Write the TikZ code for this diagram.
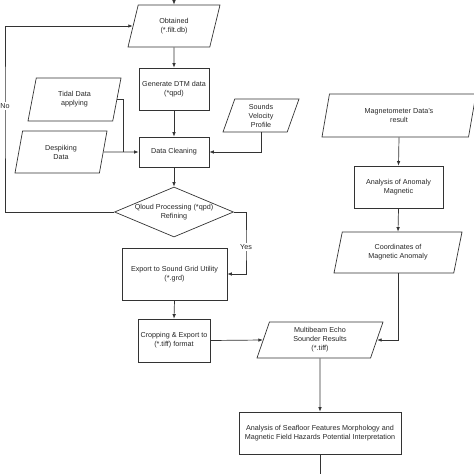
\documentclass[tikz,border=0pt]{standalone}
\usepackage{fontspec}
\setmainfont{Liberation Sans}
\usetikzlibrary{shapes.geometric,arrows.meta}

\begin{document}
\begin{tikzpicture}[x=1pt, y=-1pt, >={Latex[length=4.5pt,width=3.5pt]},
  every node/.style={font=\fontsize{7.2}{9}\selectfont, text=black!85, align=center},
  every path/.style={draw=black!80, line width=0.7pt},
  proc/.style={draw, rectangle, inner sep=1pt},
  data/.style={draw, trapezium, trapezium left angle=65, trapezium right angle=115, trapezium stretches body, inner sep=1pt},
  choice/.style={draw, diamond, inner sep=0pt, shape aspect=2.4},
  lbl/.style={fill=white, inner sep=1pt}]
\useasboundingbox[draw=none] (0,0) rectangle (474,474);

\node[data, trapezium left angle=60, trapezium right angle=120, minimum width=92pt, minimum height=42pt] at (174,26)(obtained) {Obtained\\(*.filt.db)};
\node[proc, minimum width=70pt, minimum height=42pt] at (174,89)(dtm) {Generate DTM data\\(*qpd)};
\node[data, minimum width=93pt, minimum height=43pt] at (74.5,99.5)(tidal) {Tidal Data\\applying};
\node[data, minimum width=92pt, minimum height=42pt] at (61,152)(despike) {Despiking\\Data};
\node[data, minimum width=76pt, minimum height=33pt] at (261,115.5)(sounds) {Sounds\\Velocity\\Profile};
\node[proc, minimum width=70pt, minimum height=30pt] at (174,152)(clean) {Data Cleaning};
\node[choice, minimum width=119pt, minimum height=50pt] at (174,212)(qloud) {Qloud Processing (*qpd)\\Refining};
\node[proc, minimum width=105pt, minimum height=52pt] at (174.5,274)(export) {Export to Sound Grid Utility\\(*.grd)};
\node[proc, minimum width=72pt, minimum height=43pt] at (174,340.5)(crop) {Cropping \& Export to\\(*.tiff) format};

\node[data, minimum width=154pt, minimum height=43pt] at (399,115.5)(magnet) {Magnetometer Data's\\result};
\node[proc, minimum width=89pt, minimum height=42pt] at (398.5,187)(anom) {Analysis of Anomaly\\Magnetic};
\node[data, minimum width=128pt, minimum height=41pt] at (398,252.5)(coord) {Coordinates of\\Magnetic Anomaly};
\node[data, minimum width=126pt, minimum height=36pt] at (320,340)(mb) {Multibeam Echo\\Sounder Results\\(*.tiff)};
\node[proc, minimum width=162pt, minimum height=42pt] at (320,433)(final) {Analysis of Seafloor Features Morphology and\\Magnetic Field Hazards Potential Interpretation};

\coordinate (top) at (174,0);
\coordinate (nobend) at (5,106);
\coordinate (join) at (123,152);
\coordinate (yesbend) at (246,247);
\coordinate (bottom) at (320,474);

\draw[->] (top) -- (obtained.north);
\draw[->] (obtained.south) -- (dtm.north);
\draw[->] (dtm.south) -- (clean.north);
\draw (tidal.east) -| (join);
\draw[->] (despike.east) -- (clean.west);
\draw[->] (sounds.south) |- (clean.east);
\draw[->] (clean.south) -- (qloud.north);
\draw[->] (qloud.west) -| (nobend) node[lbl](no) {No} |- (obtained.west);
\draw[->] (qloud.east) -| (yesbend) node[lbl](yes) {Yes} |- (export.east);
\draw[->] (export.south) -- (crop.north);
\draw[->] (crop.east) -- (mb.west);

\draw[->] (magnet.south) -- (anom.north);
\draw[->] (anom.south) -- (coord.north);
\draw[->] (coord.south) |- (mb.east);
\draw[->] (mb.south) -- (final.north);
\draw (final.south) -- (bottom);

\end{tikzpicture}
\end{document}
